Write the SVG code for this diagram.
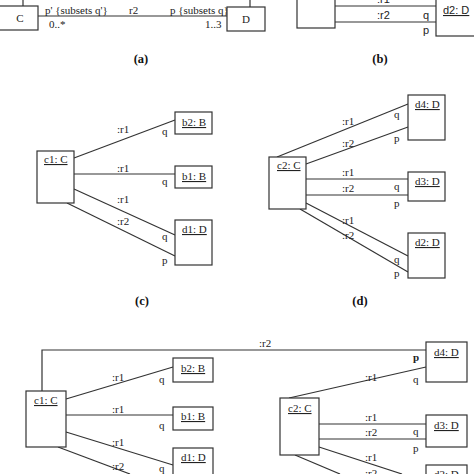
<svg xmlns="http://www.w3.org/2000/svg" width="474" height="474" viewBox="0 0 474 474">
<style>
.bx{fill:#fff;stroke:#333;stroke-width:1.2}
.ln{stroke:#333;stroke-width:1.2;fill:none}
.t{font-family:"Liberation Serif",serif;font-size:11px;fill:#222}
.s{font-family:"Liberation Sans",sans-serif;font-size:11px;fill:#222}
.u{text-decoration:underline}
.cap{font-family:"Liberation Serif",serif;font-size:12.5px;font-weight:bold;fill:#111;text-anchor:middle}
.m{text-anchor:middle}
</style>
<rect width="474" height="474" fill="#fff"/>
<g id="connectors">
<!-- (a) -->
<line class="ln" x1="23" y1="0" x2="23" y2="6"/>
<line class="ln" x1="250" y1="0" x2="250" y2="7"/>
<line class="ln" x1="38" y1="16" x2="227" y2="16"/>
<!-- (b) -->
<line class="ln" x1="335" y1="6" x2="436" y2="6"/>
<line class="ln" x1="335" y1="22" x2="436" y2="22"/>
<!-- (c) -->
<line class="ln" x1="74" y1="158" x2="175" y2="120"/>
<line class="ln" x1="74" y1="174" x2="175" y2="174"/>
<line class="ln" x1="74" y1="189" x2="175" y2="235"/>
<line class="ln" x1="67" y1="203" x2="175" y2="256"/>
<!-- (d) -->
<line class="ln" x1="277" y1="157" x2="408" y2="104"/>
<line class="ln" x1="306" y1="164" x2="408" y2="127"/>
<line class="ln" x1="306" y1="179" x2="408" y2="179"/>
<line class="ln" x1="306" y1="195" x2="408" y2="195"/>
<line class="ln" x1="306" y1="203" x2="408" y2="256"/>
<line class="ln" x1="300" y1="209" x2="408" y2="272"/>
<!-- (e) -->
<polyline class="ln" points="42,391 42,350 426,350"/>
<line class="ln" x1="66" y1="399" x2="173" y2="367"/>
<line class="ln" x1="66" y1="415" x2="173" y2="415"/>
<line class="ln" x1="66" y1="432" x2="173" y2="465"/>
<line class="ln" x1="58" y1="447" x2="130" y2="474"/>
<line class="ln" x1="289" y1="398" x2="426" y2="367"/>
<line class="ln" x1="319" y1="424" x2="426" y2="424"/>
<line class="ln" x1="319" y1="439" x2="426" y2="439"/>
<line class="ln" x1="319" y1="447" x2="402" y2="474"/>
<line class="ln" x1="295" y1="455" x2="340" y2="474"/>
</g>
<g id="labels">
<text class="t" x="45" y="14">p' {subsets q'}</text>
<text class="t" x="129" y="14">r2</text>
<text class="t" x="170" y="14">p {subsets q}</text>
<text class="t" x="49" y="28">0..*</text>
<text class="t" x="205" y="28">1..3</text>
<text class="cap" x="141" y="63">(a)</text>
<text class="s" x="377" y="3">:r1</text>
<text class="s" x="377" y="19">:r2</text>
<text class="s" x="423" y="19">q</text>
<text class="s" x="423" y="34">p</text>
<text class="cap" x="380" y="63">(b)</text>
<text class="t" x="117" y="133">:r1</text>
<text class="t" x="162" y="135">q</text>
<text class="t" x="117" y="172">:r1</text>
<text class="t" x="162" y="185">q</text>
<text class="t" x="117" y="203">:r1</text>
<text class="t" x="162" y="240">q</text>
<text class="t" x="117" y="225">:r2</text>
<text class="t" x="162" y="264">p</text>
<text class="cap" x="142" y="305">(c)</text>
<text class="t" x="342" y="125">:r1</text>
<text class="t" x="394" y="118">q</text>
<text class="t" x="342" y="147">:r2</text>
<text class="t" x="394" y="142">p</text>
<text class="t" x="342" y="176">:r1</text>
<text class="t" x="342" y="192">:r2</text>
<text class="t" x="394" y="190">q</text>
<text class="t" x="394" y="207">p</text>
<text class="t" x="342" y="224">:r1</text>
<text class="t" x="342" y="239">:r2</text>
<text class="t" x="394" y="263">q</text>
<text class="t" x="394" y="277">p</text>
<text class="cap" x="360" y="305">(d)</text>
<text class="t" x="259" y="347">:r2</text>
<text class="t" x="413" y="361" font-weight="bold">p</text>
<text class="t" x="112" y="381">:r1</text>
<text class="t" x="159" y="383">q</text>
<text class="t" x="112" y="413">:r1</text>
<text class="t" x="159" y="429">q</text>
<text class="t" x="112" y="446">:r1</text>
<text class="t" x="159" y="472">q</text>
<text class="t" x="112" y="470">:r2</text>
<text class="t" x="365" y="381">:r1</text>
<text class="t" x="413" y="383">q</text>
<text class="t" x="365" y="421">:r1</text>
<text class="t" x="365" y="436">:r2</text>
<text class="t" x="413" y="435">q</text>
<text class="t" x="413" y="452">p</text>
<text class="t" x="365" y="461">:r1</text>
<text class="t" x="365" y="477">:r2</text>
</g>
<g id="a-C"><rect class="bx" x="-2" y="6" width="40" height="24"/><text class="t m" x="20" y="22">C</text></g>
<g id="a-D"><rect class="bx" x="227" y="7" width="38" height="24"/><text class="t m" x="246" y="23">D</text></g>
<g id="b-box"><rect class="bx" x="297" y="-10" width="38" height="38"/></g>
<g id="b-d2"><rect class="bx" x="436" y="-10" width="44" height="46"/><text class="s u" x="443" y="14">d2: D</text></g>
<g id="c-c1"><rect class="bx" x="37" y="151" width="37" height="52"/><text class="t u" x="44" y="163">c1: C</text></g>
<g id="c-b2"><rect class="bx" x="175" y="112" width="37" height="22"/><text class="t u" x="182" y="126">b2: B</text></g>
<g id="c-b1"><rect class="bx" x="175" y="166" width="37" height="22"/><text class="t u" x="182" y="180">b1: B</text></g>
<g id="c-d1"><rect class="bx" x="175" y="220" width="37" height="45"/><text class="t u" x="182" y="233">d1: D</text></g>
<g id="d-c2"><rect class="bx" x="269" y="157" width="37" height="52"/><text class="t u" x="277" y="169">c2: C</text></g>
<g id="d-d4"><rect class="bx" x="408" y="95" width="37" height="45"/><text class="t u" x="415" y="108">d4: D</text></g>
<g id="d-d3"><rect class="bx" x="408" y="172" width="37" height="29"/><text class="t u" x="415" y="185">d3: D</text></g>
<g id="d-d2"><rect class="bx" x="408" y="233" width="37" height="45"/><text class="t u" x="415" y="246">d2: D</text></g>
<g id="e-c1"><rect class="bx" x="26" y="391" width="40" height="56"/><text class="t u" x="34" y="404">c1: C</text></g>
<g id="e-b2"><rect class="bx" x="173" y="358" width="40" height="24"/><text class="t u" x="181" y="372">b2: B</text></g>
<g id="e-b1"><rect class="bx" x="173" y="407" width="40" height="23"/><text class="t u" x="181" y="420">b1: B</text></g>
<g id="e-d1"><rect class="bx" x="173" y="448" width="40" height="40"/><text class="t u" x="181" y="461">d1: D</text></g>
<g id="e-c2"><rect class="bx" x="280" y="398" width="39" height="57"/><text class="t u" x="288" y="412">c2: C</text></g>
<g id="e-d4"><rect class="bx" x="426" y="342" width="41" height="40"/><text class="t u" x="434" y="356">d4: D</text></g>
<g id="e-d3"><rect class="bx" x="426" y="415" width="41" height="32"/><text class="t u" x="434" y="429">d3: D</text></g>
<g id="e-d2"><rect class="bx" x="426" y="465" width="41" height="30"/><text class="t u" x="434" y="478">d2: D</text></g>
</svg>
